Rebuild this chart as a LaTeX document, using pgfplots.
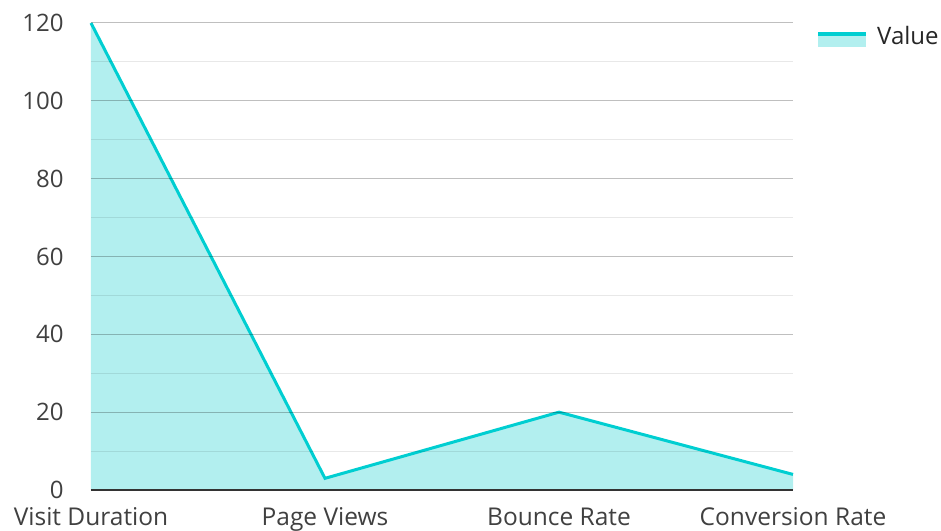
\documentclass[border=0pt]{standalone}
\usepackage{fontspec}
\setmainfont{Open Sans}
\usepackage{pgfplots}
\pgfplotsset{compat=1.18}
\definecolor{lineC}{HTML}{00CED1}
\definecolor{fillC}{HTML}{B2EFEF}
\definecolor{txt}{HTML}{404040}
\begin{document}
\begin{tikzpicture}
\begin{axis}[
  at={(0,0)}, anchor=south west,
  scale only axis, width=702bp, height=467bp,
  xmin=0, xmax=3, ymin=0, ymax=120,
  xtick={0,1,2,3},
  xticklabels={Visit Duration,Page Views,Bounce Rate,Conversion Rate},
  ytick={0,20,...,120},
  minor ytick={10,30,...,110},
  ymajorgrids, yminorgrids,
  major grid style={draw=black, opacity=0.25, line width=1bp},
  minor grid style={draw=black, opacity=0.09, line width=1bp},
  axis x line*=bottom, axis y line*=left,
  x axis line style={draw=black!80, line width=2bp, -},
  y axis line style={draw=none},
  tick style={draw=none},
  axis on top,
  ticklabel style={font=\fontsize{24bp}{28bp}\selectfont, text=txt},
  /pgf/number format/assume math mode=true,
  yticklabel style={xshift=-24bp},
  xticklabel style={yshift=-14bp, anchor=north, font=\fontsize{24.5bp}{28bp}\selectfont},
  clip=false,
]
\addplot[draw=none, fill=fillC] coordinates {(0,120) (1,3) (2,20) (3,4)} \closedcycle;
\addplot[lineC, line width=3bp] coordinates {(0,120) (1,3) (2,20) (3,4)};
\end{axis}
\fill[fillC] (727bp,443bp) rectangle (775bp,456bp);
\draw[lineC, line width=4bp] (727bp,456bp) -- (775bp,456bp);
\node[anchor=west, font=\fontsize{24bp}{28bp}\selectfont, text=black!85, inner sep=0pt] at (786bp,454bp) {Value};
\pgfresetboundingbox
\path[use as bounding box] (-91bp,-41bp) rectangle (850bp,490bp);
\end{tikzpicture}
\end{document}
